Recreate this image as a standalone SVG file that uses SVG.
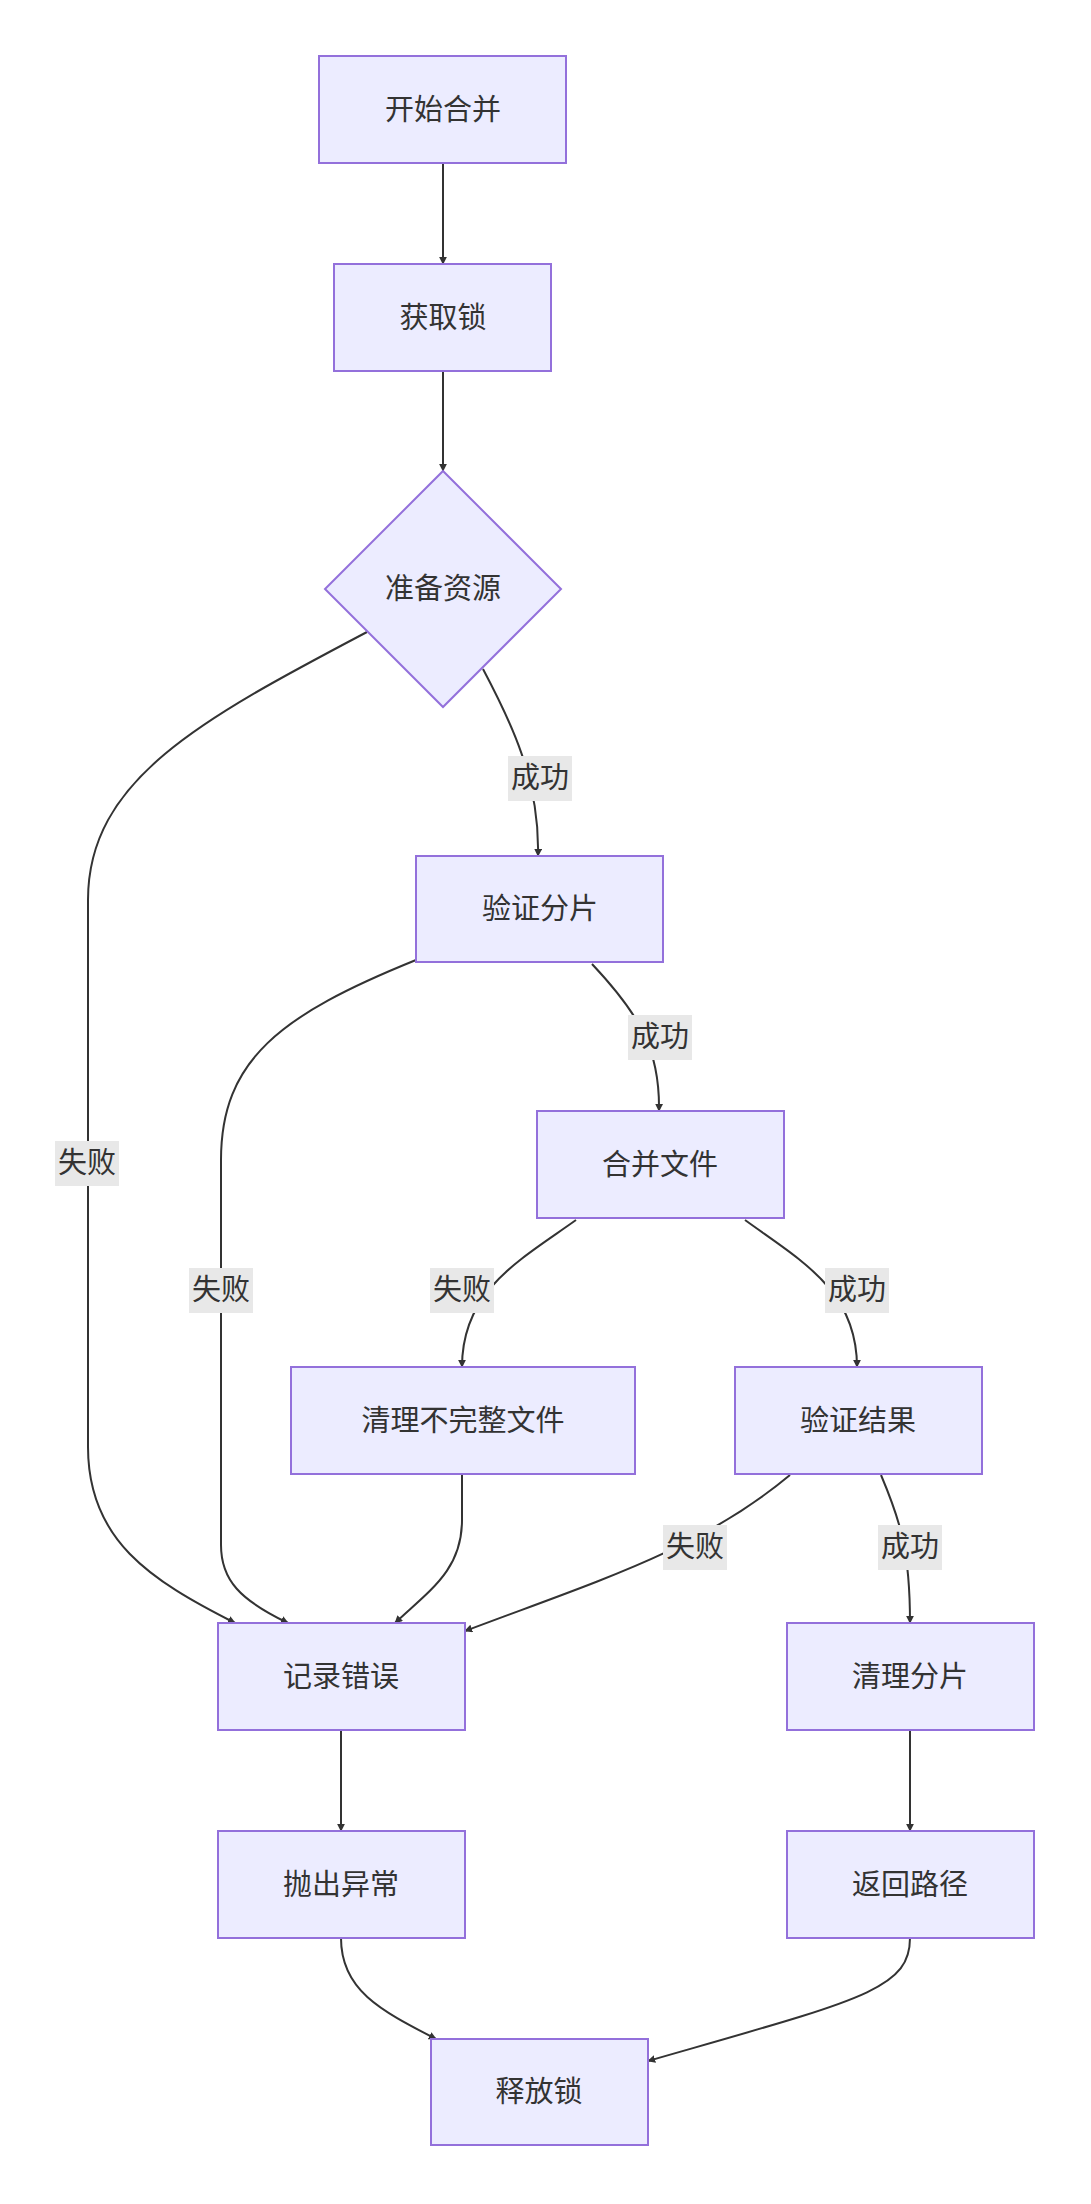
<svg xmlns="http://www.w3.org/2000/svg" width="1091" height="2204" viewBox="0 0 1091 2204">
<style>
.n{fill:#ECECFF;stroke:#9370DB;stroke-width:2}
.t{font-family:"Liberation Sans","Noto Sans CJK SC",sans-serif;font-size:29px;fill:#333;text-anchor:middle;dominant-baseline:central}
.e{fill:none;stroke:#333;stroke-width:2;marker-end:url(#a)}
.lb{fill:#e8e8e8}
</style>
<defs><marker id="a" viewBox="0 0 10 10" refX="9" refY="5" markerWidth="8" markerHeight="8" markerUnits="userSpaceOnUse" orient="auto"><path d="M0,0L10,5L0,10z" fill="#333"/></marker></defs>
<rect width="1091" height="2204" fill="#fff"/>
<g id="edges">
<path class="e" d="M443,163V264"/>
<path class="e" d="M443,371V471"/>
<path class="e" d="M483,669C510,720 540,780 538,856"/>
<path class="e" d="M367,632C200,720 88,780 88,900V1447C88,1540 150,1580 235,1623"/>
<path class="e" d="M592,964C640,1015 660,1050 659,1111"/>
<path class="e" d="M416,960C280,1015 221,1060 221,1160V1545C221,1580 240,1600 288,1623"/>
<path class="e" d="M576,1220C520,1260 462,1290 462,1367"/>
<path class="e" d="M745,1220C800,1260 857,1290 857,1367"/>
<path class="e" d="M462,1474V1520C462,1570 430,1590 395,1623"/>
<path class="e" d="M790,1475C700,1550 600,1580 465,1631"/>
<path class="e" d="M881,1475C900,1520 910,1550 910,1623"/>
<path class="e" d="M910,1730V1831"/>
<path class="e" d="M341,1730V1831"/>
<path class="e" d="M341,1938C341,1990 380,2010 436,2039"/>
<path class="e" d="M910,1938C910,1990 860,2000 648,2061"/>
<g id="labels">
<rect class="lb" x="508" y="756" width="64" height="45"/><text class="t" x="540" y="778">成功</text>
<rect class="lb" x="55" y="1141" width="64" height="45"/><text class="t" x="87" y="1163">失败</text>
<rect class="lb" x="628" y="1015" width="64" height="45"/><text class="t" x="660" y="1037">成功</text>
<rect class="lb" x="189" y="1268" width="64" height="45"/><text class="t" x="221" y="1290">失败</text>
<rect class="lb" x="430" y="1268" width="64" height="45"/><text class="t" x="462" y="1290">失败</text>
<rect class="lb" x="825" y="1268" width="64" height="45"/><text class="t" x="857" y="1290">成功</text>
<rect class="lb" x="663" y="1525" width="64" height="45"/><text class="t" x="695" y="1547">失败</text>
<rect class="lb" x="878" y="1525" width="64" height="45"/><text class="t" x="910" y="1547">成功</text>
</g>
</g>
<g id="start"><rect class="n" x="319" y="56" width="247" height="107"/><text class="t" x="443" y="110">开始合并</text></g>
<g id="lock"><rect class="n" x="334" y="264" width="217" height="107"/><text class="t" x="443" y="318">获取锁</text></g>
<g id="prep"><polygon class="n" points="443,471 561,589 443,707 325,589"/><text class="t" x="443" y="589">准备资源</text></g>
<g id="verify"><rect class="n" x="416" y="856" width="247" height="106"/><text class="t" x="540" y="909">验证分片</text></g>
<g id="merge"><rect class="n" x="537" y="1111" width="247" height="107"/><text class="t" x="660" y="1165">合并文件</text></g>
<g id="cleanbad"><rect class="n" x="291" y="1367" width="344" height="107"/><text class="t" x="463" y="1421">清理不完整文件</text></g>
<g id="verres"><rect class="n" x="735" y="1367" width="247" height="107"/><text class="t" x="858" y="1421">验证结果</text></g>
<g id="log"><rect class="n" x="218" y="1623" width="247" height="107"/><text class="t" x="341" y="1677">记录错误</text></g>
<g id="cleanparts"><rect class="n" x="787" y="1623" width="247" height="107"/><text class="t" x="910" y="1677">清理分片</text></g>
<g id="throw"><rect class="n" x="218" y="1831" width="247" height="107"/><text class="t" x="341" y="1885">抛出异常</text></g>
<g id="ret"><rect class="n" x="787" y="1831" width="247" height="107"/><text class="t" x="910" y="1885">返回路径</text></g>
<g id="release"><rect class="n" x="431" y="2039" width="217" height="106"/><text class="t" x="539" y="2092">释放锁</text></g>
</svg>
